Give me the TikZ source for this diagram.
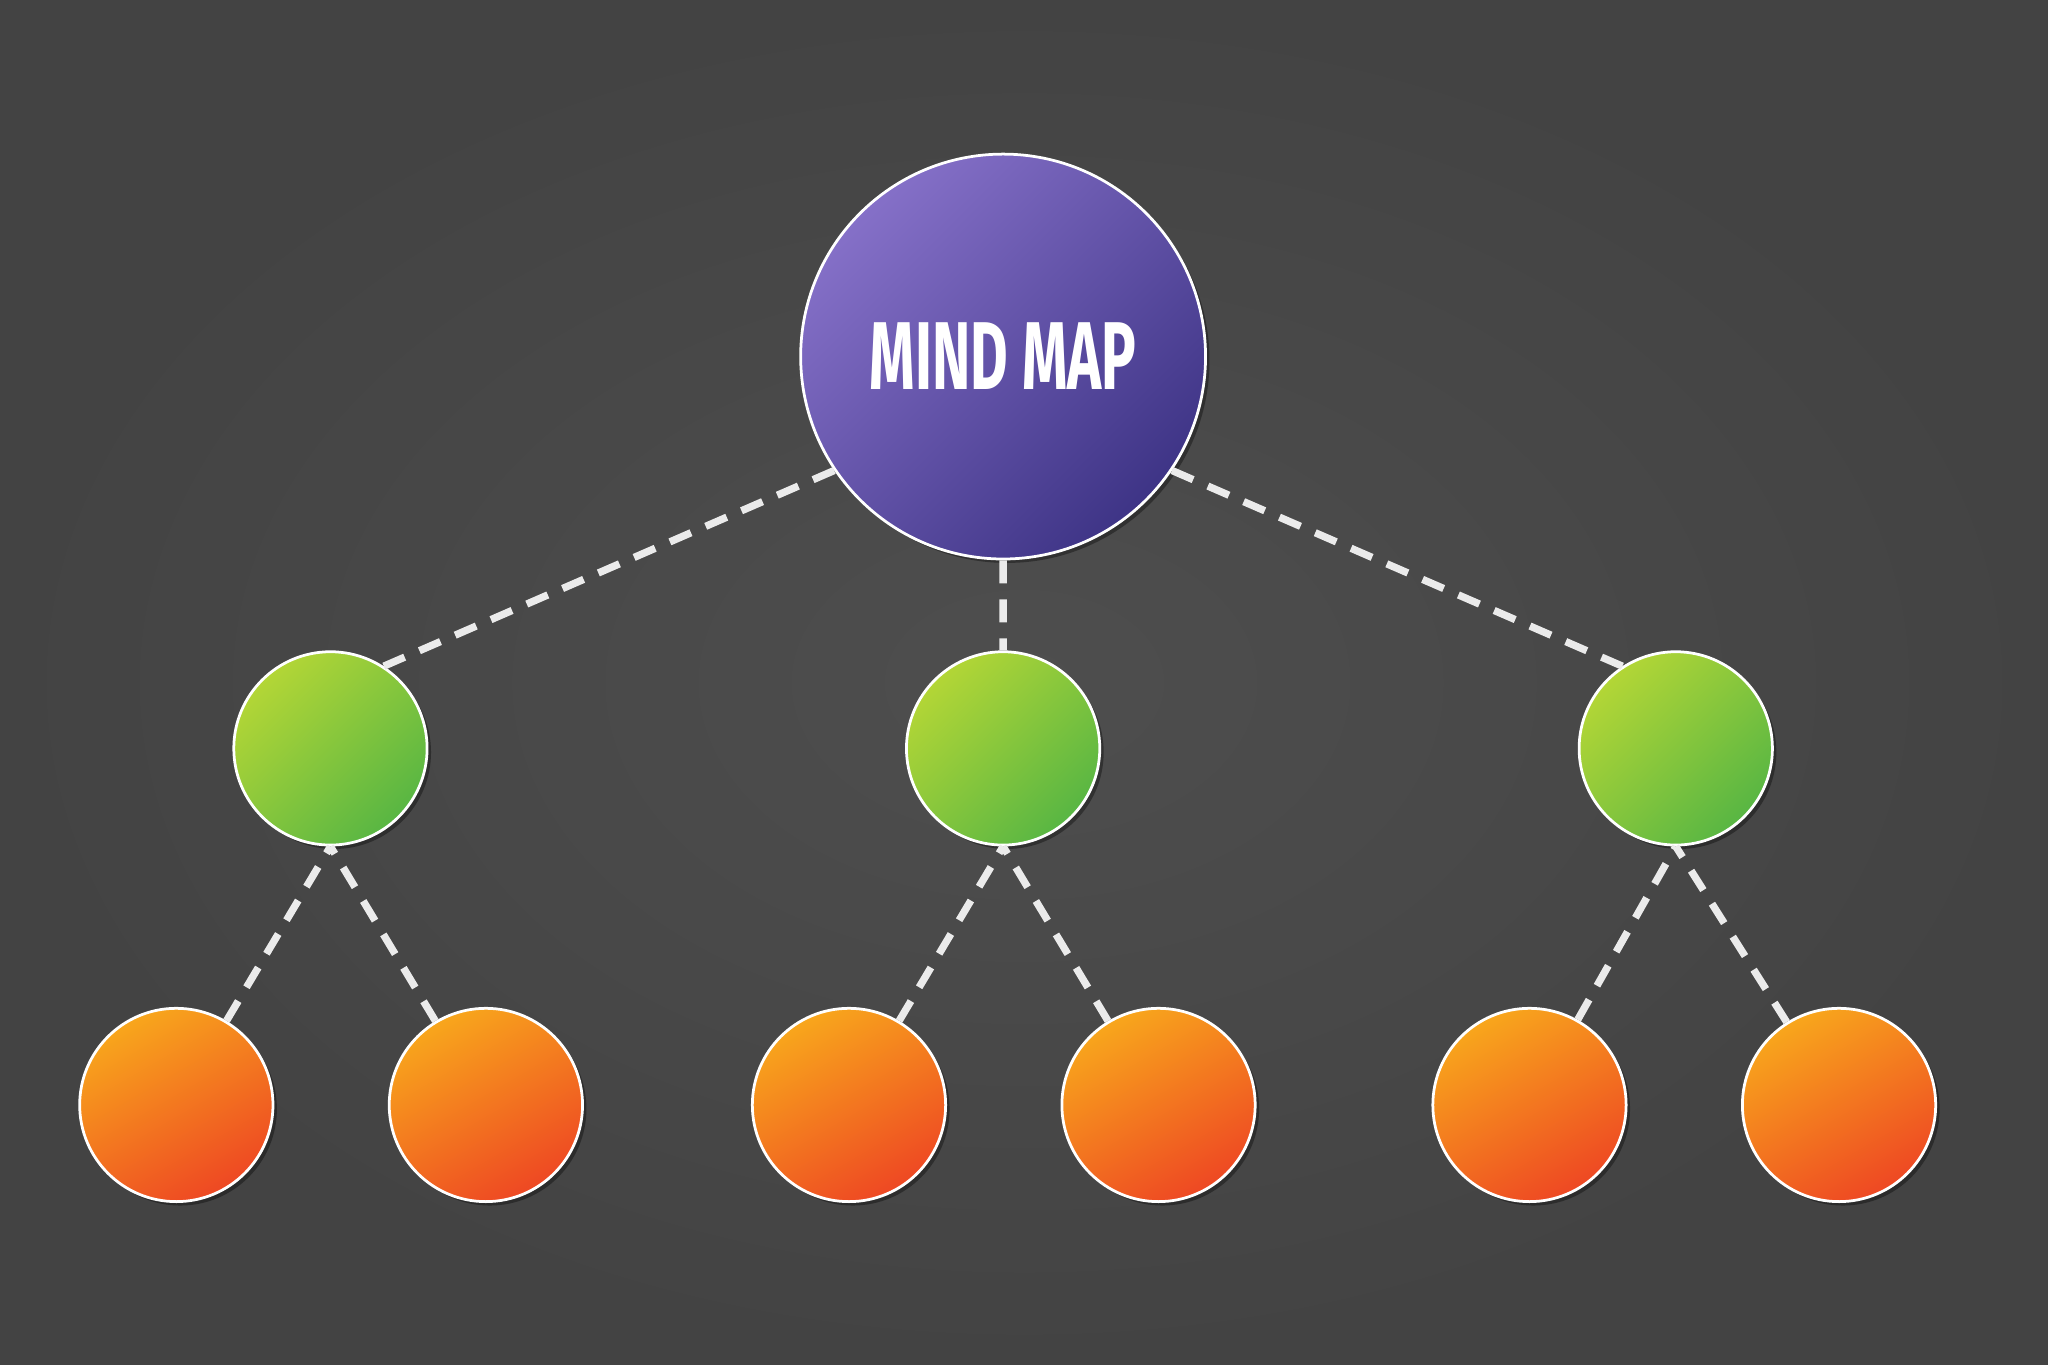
\documentclass[tikz,border=0pt]{standalone}
\usepackage{fontspec}
\setmainfont{Fira Sans}
\usetikzlibrary{shadings,shadows}
\definecolor{bgin}{HTML}{4E4E4E}
\definecolor{bgout}{HTML}{434343}
\definecolor{lila1}{HTML}{8570C8}
\definecolor{lila2}{HTML}{3E3486}
\definecolor{gruen1}{HTML}{B3D636}
\definecolor{gruen2}{HTML}{58B643}
\definecolor{orange1}{HTML}{F8A61C}
\definecolor{orange2}{HTML}{EE4823}
\tikzset{
  kreis/.style={circle,draw=white,line width=.6pt,inner sep=0pt,
    drop shadow={shadow xshift=.03cm,shadow yshift=-.03cm,opacity=.35,fill=black}},
  haupt/.style={kreis,minimum size=3.1cm,left color=lila1,right color=lila2,shading angle=45},
  ast/.style={kreis,minimum size=1.48cm,left color=gruen1,right color=gruen2,shading angle=45},
  blatt/.style={kreis,minimum size=1.48cm,left color=orange1,right color=orange2,shading angle=30},
  verb/.style={draw=white!92!black,line width=1.6pt,dash pattern=on 5pt off 3.5pt}
}
\begin{document}
\begin{tikzpicture}
  % Hintergrund
  \shade[inner color=bgin,outer color=bgout] (0,0) rectangle (15.68,10.45);
  \useasboundingbox (0,0) rectangle (15.68,10.45);
  % Knoten
  \node[haupt] (m) at (7.68,7.72) {\scalebox{.6}[1]{\fontsize{21}{21}\selectfont\bfseries\color{white}MIND MAP}};
  \node[ast] (g1) at (2.53,4.72) {};
  \node[ast] (g2) at (7.68,4.72) {};
  \node[ast] (g3) at (12.83,4.72) {};
  \foreach \i/\x in {1/1.35,2/3.72,3/6.50,4/8.87,5/11.71,6/14.08}
    \node[blatt] (b\i) at (\x,1.99) {};
  % Verbindungen
  \draw[verb] (m.214) -- (g1.57) (m) -- (g2) (m.326) -- (g3.123);
  \draw[verb] (b1) -- (g1.south) (b2) -- (g1.south)
              (b3) -- (g2.south) (b4) -- (g2.south)
              (b5) -- (g3.south) (b6) -- (g3.south);
\end{tikzpicture}
\end{document}
